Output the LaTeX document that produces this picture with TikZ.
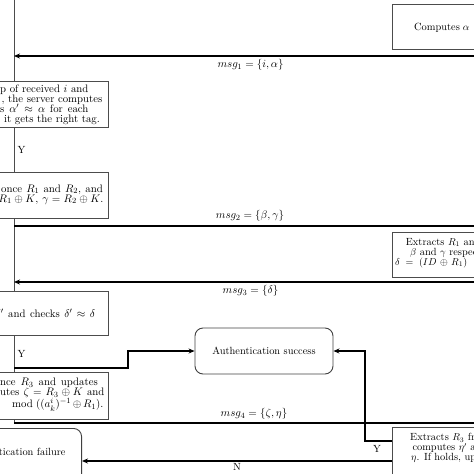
\documentclass[tikz,border=0pt]{standalone}
\usetikzlibrary{arrows.meta,calc}
\newcommand\dfont{\fontsize{10.4}{10}\selectfont\lineskiplimit=-20pt}
\newcommand\bfontx{\fontsize{10.8}{10}\selectfont\lineskiplimit=-20pt}
\newcommand\lfont{\fontsize{11.4}{12}\selectfont}
\newcommand\sline[2]{\makebox[#1][s]{#2}}
\begin{document}
\begin{tikzpicture}[x=1pt,y=-1pt,
  every node/.style={font=\dfont, inner sep=0pt},
  lbox/.style={draw=black!70, line width=0.9pt, rectangle},
  rbox/.style={draw=black!75, line width=0.9pt, rectangle, rounded corners=8pt},
  msg/.style={line width=1.4pt, draw=black},
  srv/.style={line width=0.9pt, draw=black!70},
  tip/.style={-{Stealth[length=6pt,width=5pt]}},
  ln/.style={anchor=base west},
  bl/.style={anchor=west, align=left, font=\bfontx},
  rl/.style={anchor=west, align=left},
  lbl/.style={font=\lfont}]
\useasboundingbox (0,0) rectangle (474,474);
\clip (0,0) rectangle (474,474);

% left (server) boxes
\node[lbox, minimum width=200pt, minimum height=46pt, anchor=north east] (b1) at (108.5,81) {};
\node[lbox, minimum width=200pt, minimum height=46pt, anchor=north east] (b2) at (108.5,172) {};
\node[lbox, minimum width=200pt, minimum height=44pt, anchor=north east] (b3) at (108.5,291) {};
\node[lbox, minimum width=200pt, minimum height=47pt, anchor=north east] (b4) at (108.5,372) {};
\node[rbox, minimum width=200pt, minimum height=80pt, anchor=north east] (fail) at (82,428) {};

% box texts
\node[bl] (t1) at (-5,104.5) {\hspace*{5pt}\sline{88.3pt}{p of received $i$ and}\\
  \hspace*{6.5pt}\sline{100.8pt}{, the server computes}\\
  \hspace*{5pt}\sline{88.3pt}{s $\alpha' \approx \alpha$ for each}\\
  \hspace*{9pt}\sline{95.7pt}{it gets the right tag.}};
\node[bl] (t2) at (-5,194.5) {\hspace*{6pt}\sline{101.7pt}{once $R_1$ and $R_2$, and}\\
  \hspace*{3.5pt}\sline{104.8pt}{$R_1 \oplus K$, $\gamma = R_2 \oplus K$.}};
\node[bl, anchor=base west] (t3) at (-4.5,317) {\sline{99.5pt}{$\delta'$ and checks $\delta' \approx \delta$}};
\node[bl] (t4) at (-5,394.8) {\hspace*{5pt}\sline{97.7pt}{nce $R_3$ and updates}\\
  \hspace*{5pt}\sline{104.3pt}{utes $\zeta = R_3 \oplus K$ and}\\[2pt]
  \hspace*{17pt}\sline{91.3pt}{mod $((a_k^i)^{-1} \oplus R_1)$.}};
\node[anchor=base east] (tf) at (65.8,455) {Authentication failure};

% success
\node[rbox, minimum width=138pt, minimum height=46pt] (succ) at (264,351) {Authentication success};

% right (tag) boxes
\node[lbox, minimum width=150pt, minimum height=45pt, anchor=north west] (rc1) at (392,4) {};
\node[lbox, minimum width=150pt, minimum height=45pt, anchor=north west] (rc2) at (392,232) {};
\node[lbox, minimum width=150pt, minimum height=80pt, anchor=north west] (rc3) at (392,427) {};
\node[ln] (u1) at (414,30) {\sline{55pt}{Computes $\alpha$}};
\node[rl] (u2) at (395,252.6) {\hspace*{10.7pt}Extracts $R_1$ and $R_2$ from\\
  \hspace*{15pt}$\beta$ and $\gamma$ respectively\\
  \sline{72pt}{$\delta = (ID \oplus R_1)$}};
\node[rl] (u3) at (410,448.3) {Extracts $R_3$ from\\
  \hspace*{2.3pt}computes $\eta'$ and\\
  \hspace*{1pt}$\eta$. If holds, updates};

% server time line
\coordinate (s0) at (14,0);
\coordinate (m1) at (14,56);
\coordinate (m2) at (14,226);
\coordinate (m3) at (14,282);
\coordinate (ys) at (14,368);
\coordinate (m4) at (14,423);
\coordinate (e1) at (480,56);
\coordinate (e2) at (480,226);
\coordinate (e3) at (480,282);
\coordinate (e4) at (480,423);
\draw[srv] (s0) -- (s0 |- b1.north);
\draw[srv] (s0 |- b1.south) -- (s0 |- b2.north);
\draw[srv] (s0 |- b2.south) -- (s0 |- b3.north);
\draw[srv] (s0 |- b3.south) -- (s0 |- b4.north);
\draw[srv] (s0 |- b4.south) -- (m4);

% messages
\draw[msg, tip] (e1) -- (m1);
\draw[msg] (m2) -- (e2);
\draw[msg, tip] (e3) -- (m3);
\draw[msg] (m4) -- (e4);
\node[lbl] (l1) at (250.5,65) {$msg_1 = \{i, \alpha\}$};
\node[lbl] (l2) at (250,216) {$msg_2 = \{\beta, \gamma\}$};
\node[lbl] (l3) at (250.5,291) {$msg_3 = \{\delta\}$};
\node[lbl] (l4) at (254,414) {$msg_4 = \{\zeta, \eta\}$};

% decisions
\node (y1) at (21.5,150) {Y};
\node (y2) at (21.5,354) {Y};
\draw[msg, tip] (ys) -- (128,368) -- (128,351) -- (succ.west);
\coordinate (ry) at ($(rc3.north west)+(0,14)$);
\coordinate (rn) at ($(rc3.north west)+(0,34)$);
\draw[msg, tip] (ry) -- (365,441) -- (365,351) -- (succ.east);
\draw[msg, tip] (rn) -- (rn -| fail.east);
\node (y3) at (377,449) {Y};
\node (n1) at (237,467) {N};
\end{tikzpicture}
\end{document}
